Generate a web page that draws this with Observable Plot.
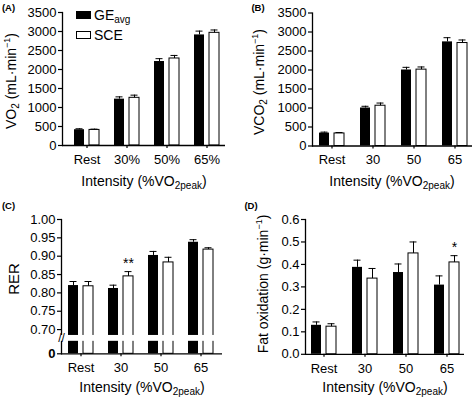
<!DOCTYPE html>
<html><head><meta charset="utf-8">
<script src="https://cdn.jsdelivr.net/npm/d3@7"></script>
<script src="https://cdn.jsdelivr.net/npm/@observablehq/plot@0.6"></script>
<style>
body{margin:0;background:#fff;}
#wrap{position:relative;width:474px;height:398px;overflow:hidden;font-family:"Liberation Sans",Arial,sans-serif;color:#000;background:#fff;}
.panel{position:absolute;}
.t{position:absolute;white-space:nowrap;line-height:1;}
.t sub{font-size:10px;vertical-align:-3px;line-height:0;}
.t sup{font-size:9px;vertical-align:6px;line-height:0;}
</style></head><body><div id="wrap"></div>
<script>
// ---- data ----
const intensityPct = ["Rest", "30%", "50%", "65%"];
const intensity = ["Rest", "30", "50", "65"];
const seriesLabels = ["GE<sub>avg</sub>", "SCE"];

const vo2GE = [415, 1220, 2210, 2910];
const vo2GEerr = [25, 60, 75, 100];
const vo2SCE = [410, 1255, 2290, 2965];
const vo2SCEerr = [20, 70, 80, 75];

const vco2GE = [340, 1000, 2000, 2740];
const vco2GEerr = [25, 45, 70, 110];
const vco2SCE = [330, 1060, 2010, 2710];
const vco2SCEerr = [25, 70, 70, 80];

const rerGE = [0.820, 0.812, 0.902, 0.938];
const rerGEerr = [0.011, 0.009, 0.011, 0.007];
const rerSCE = [0.818, 0.845, 0.883, 0.918];
const rerSCEerr = [0.013, 0.013, 0.014, 0.005];
const rerSig = ["", "**", "", ""];

const fatGE = [0.129, 0.387, 0.364, 0.308];
const fatGEerr = [0.015, 0.032, 0.038, 0.041];
const fatSCE = [0.123, 0.337, 0.449, 0.409];
const fatSCEerr = [0.013, 0.045, 0.051, 0.030];
const fatSig = ["", "", "", "*"];

const vTicks = [0, 500, 1000, 1500, 2000, 2500, 3000, 3500];
// broken RER axis: the stub below the break stands for 0
const rerZero = 0.634;
const rerTicks = [rerZero, 0.70, 0.75, 0.80, 0.85, 0.90, 0.95, 1.00];
const rerBreak = [0.668, 0.684];
const fatTicks = [0, 0.1, 0.2, 0.3, 0.4, 0.5, 0.6];

// ---- helpers ----
const wrap = document.getElementById("wrap");
function rows(cats, ge, geErr, sce, sceErr, sig) {
  const out = [];
  cats.forEach((c, i) => {
    out.push({cat: c, series: "GE", value: ge[i], err: geErr[i], sig: ""});
    out.push({cat: c, series: "SCE", value: sce[i], err: sceErr[i], sig: sig ? sig[i] : ""});
  });
  return out;
}
function text(html, cx, cy, opts = {}) {
  const d = document.createElement("div");
  d.className = "t";
  d.innerHTML = html;
  d.style.left = cx + "px";
  d.style.top = cy + "px";
  d.style.fontSize = (opts.size || 14) + "px";
  if (opts.bold) d.style.fontWeight = "bold";
  d.style.transform = "translate(-50%,-50%)" + (opts.rotate ? " rotate(-90deg)" : "");
  wrap.appendChild(d);
  return d;
}
function panel(p) {
  const base = p.base || 0;
  const GE = p.data.filter(d => d.series === "GE");
  const SC = p.data.filter(d => d.series === "SCE");
  const marks = [
    Plot.barY(GE, {x: "cat", y1: () => base, y2: "value", fill: "#000", insetRight: 15}),
    Plot.barY(SC, {x: "cat", y1: () => base, y2: "value", fill: "#fff", stroke: "#000", strokeWidth: 1, insetLeft: 15}),
    Plot.ruleX(GE, {x: "cat", y1: "value", y2: d => d.value + d.err, dx: -7.5, stroke: "#000", strokeWidth: 1}),
    Plot.ruleX(SC, {x: "cat", y1: "value", y2: d => d.value + d.err, dx: 7.5, stroke: "#000", strokeWidth: 1}),
    Plot.tickY(GE, {x: "cat", y: d => d.value + d.err, insetLeft: 1.5, insetRight: 16.5, stroke: "#000", strokeWidth: 1}),
    Plot.tickY(SC, {x: "cat", y: d => d.value + d.err, insetLeft: 16.5, insetRight: 1.5, stroke: "#000", strokeWidth: 1}),
    Plot.text(SC.filter(d => d.sig), {x: "cat", y: d => d.value + d.err, text: "sig", dx: 7.5, dy: -8, fontSize: 14}),
    Plot.frame({anchor: "left", stroke: "#000", strokeWidth: 1.3}),
    Plot.ruleY([base], {stroke: "#000", strokeWidth: 1.3}),
    Plot.axisY({ticks: p.yTicks, tickFormat: p.yFmt, tickSize: 4, tickPadding: 2, label: null, stroke: "#000", strokeWidth: 1.2}),
    Plot.axisX({tickSize: 3, tickPadding: 6, label: null, stroke: "#000", strokeWidth: 1.2})
  ];
  if (p.breakBand) {
    marks.push(Plot.rect([p.breakBand], {y1: d => d[0], y2: d => d[1], fill: "#fff", insetLeft: -5}));
    marks.push(Plot.text([p.breakBand], {y: d => (d[0] + d[1]) / 2, frameAnchor: "left", text: () => "//", textAnchor: "middle", fontSize: 12}));
  }
  const svg = Plot.plot({
    width: p.width, height: p.height,
    marginLeft: p.ml, marginRight: p.mr, marginTop: p.mt, marginBottom: p.mb,
    x: Object.assign({domain: p.cats}, p.x),
    y: p.y,
    style: {fontSize: "13px", fontFamily: "'Liberation Sans', Arial, sans-serif", color: "#000", background: "transparent", overflow: "visible"},
    marks
  });
  const box = document.createElement("div");
  box.className = "panel";
  box.style.left = p.left + "px";
  box.style.top = p.top + "px";
  box.appendChild(svg);
  wrap.appendChild(box);
  return svg;
}

// ---- panels ----
panel({
  cats: intensityPct, data: rows(intensityPct, vo2GE, vo2GEerr, vo2SCE, vo2SCEerr),
  left: 0, top: 0, width: 237, height: 195, ml: 62, mr: 12, mt: 12, mb: 50,
  x: {paddingInner: 0.3857, paddingOuter: 0.1953, align: 0.63},
  y: {domain: [0, 3500]}, yTicks: vTicks, yFmt: d => String(d)
});
panel({
  cats: intensity, data: rows(intensity, vco2GE, vco2GEerr, vco2SCE, vco2SCEerr),
  left: 237, top: 0, width: 237, height: 195, ml: 75, mr: 2, mt: 12.5, mb: 49.5,
  x: {paddingInner: 0.395, paddingOuter: 0.133, align: 0.545},
  y: {domain: [0, 3500]}, yTicks: vTicks, yFmt: d => String(d)
});
const svgC = panel({
  cats: intensity, data: rows(intensity, rerGE, rerGEerr, rerSCE, rerSCEerr, rerSig),
  left: 0, top: 195, width: 237, height: 203, ml: 61, mr: 15, mt: 24, mb: 44.7,
  x: {paddingInner: 0.3873, paddingOuter: 0.1667, align: 0.40},
  y: {domain: [rerZero, 1.0]}, base: rerZero,
  yTicks: rerTicks, yFmt: d => d === rerZero ? "0" : d.toFixed(2), breakBand: rerBreak
});
panel({
  cats: intensity, data: rows(intensity, fatGE, fatGEerr, fatSCE, fatSCEerr, fatSig),
  left: 237, top: 195, width: 237, height: 203, ml: 68, mr: 10, mt: 24, mb: 44.2,
  x: {paddingInner: 0.3947, paddingOuter: 0.126, align: 0.51},
  y: {domain: [0, 0.6]}, yTicks: fatTicks, yFmt: d => d.toFixed(1)
});
// bold "0" tick in panel C
svgC.querySelectorAll("text").forEach(t => { if (t.textContent === "0") t.setAttribute("font-weight", "bold"); });

// ---- titles ----
const xTitle = "Intensity (%VO<sub>2peak</sub>)";
text(xTitle, 144, 181);
text(xTitle, 392, 181);
text(xTitle, 142, 387);
text(xTitle, 385, 387);
text("VO<sub>2</sub> (mL·min<sup>−1</sup>)", 11, 81, {rotate: true});
text("VCO<sub>2</sub> (mL·min<sup>−1</sup>)", 259, 82, {rotate: true});
text("RER", 13, 279, {rotate: true, size: 15});
text("Fat oxidation (g·min<sup>−1</sup>)", 263, 284, {rotate: true});
text("(A)", 8.5, 8, {size: 9.5, bold: true});
text("(B)", 258, 8, {size: 9.5, bold: true});
text("(C)", 8.5, 206, {size: 9.5, bold: true});
text("(D)", 251, 206, {size: 9.5, bold: true});

// ---- legend (panel A) ----
const legendFill = ["#000", "#fff"];
seriesLabels.forEach((lab, i) => {
  const sw = document.createElement("div");
  sw.style.cssText = `position:absolute;left:76px;top:${11 + i * 20}px;width:15px;height:8px;box-sizing:border-box;background:${legendFill[i]};border:1px solid #000;`;
  wrap.appendChild(sw);
  const t = document.createElement("div");
  t.className = "t";
  t.style.cssText += `left:94px;top:${15 + i * 20}px;font-size:14px;transform:translate(0,-50%);`;
  t.innerHTML = lab;
  wrap.appendChild(t);
});
</script>
</body></html>
